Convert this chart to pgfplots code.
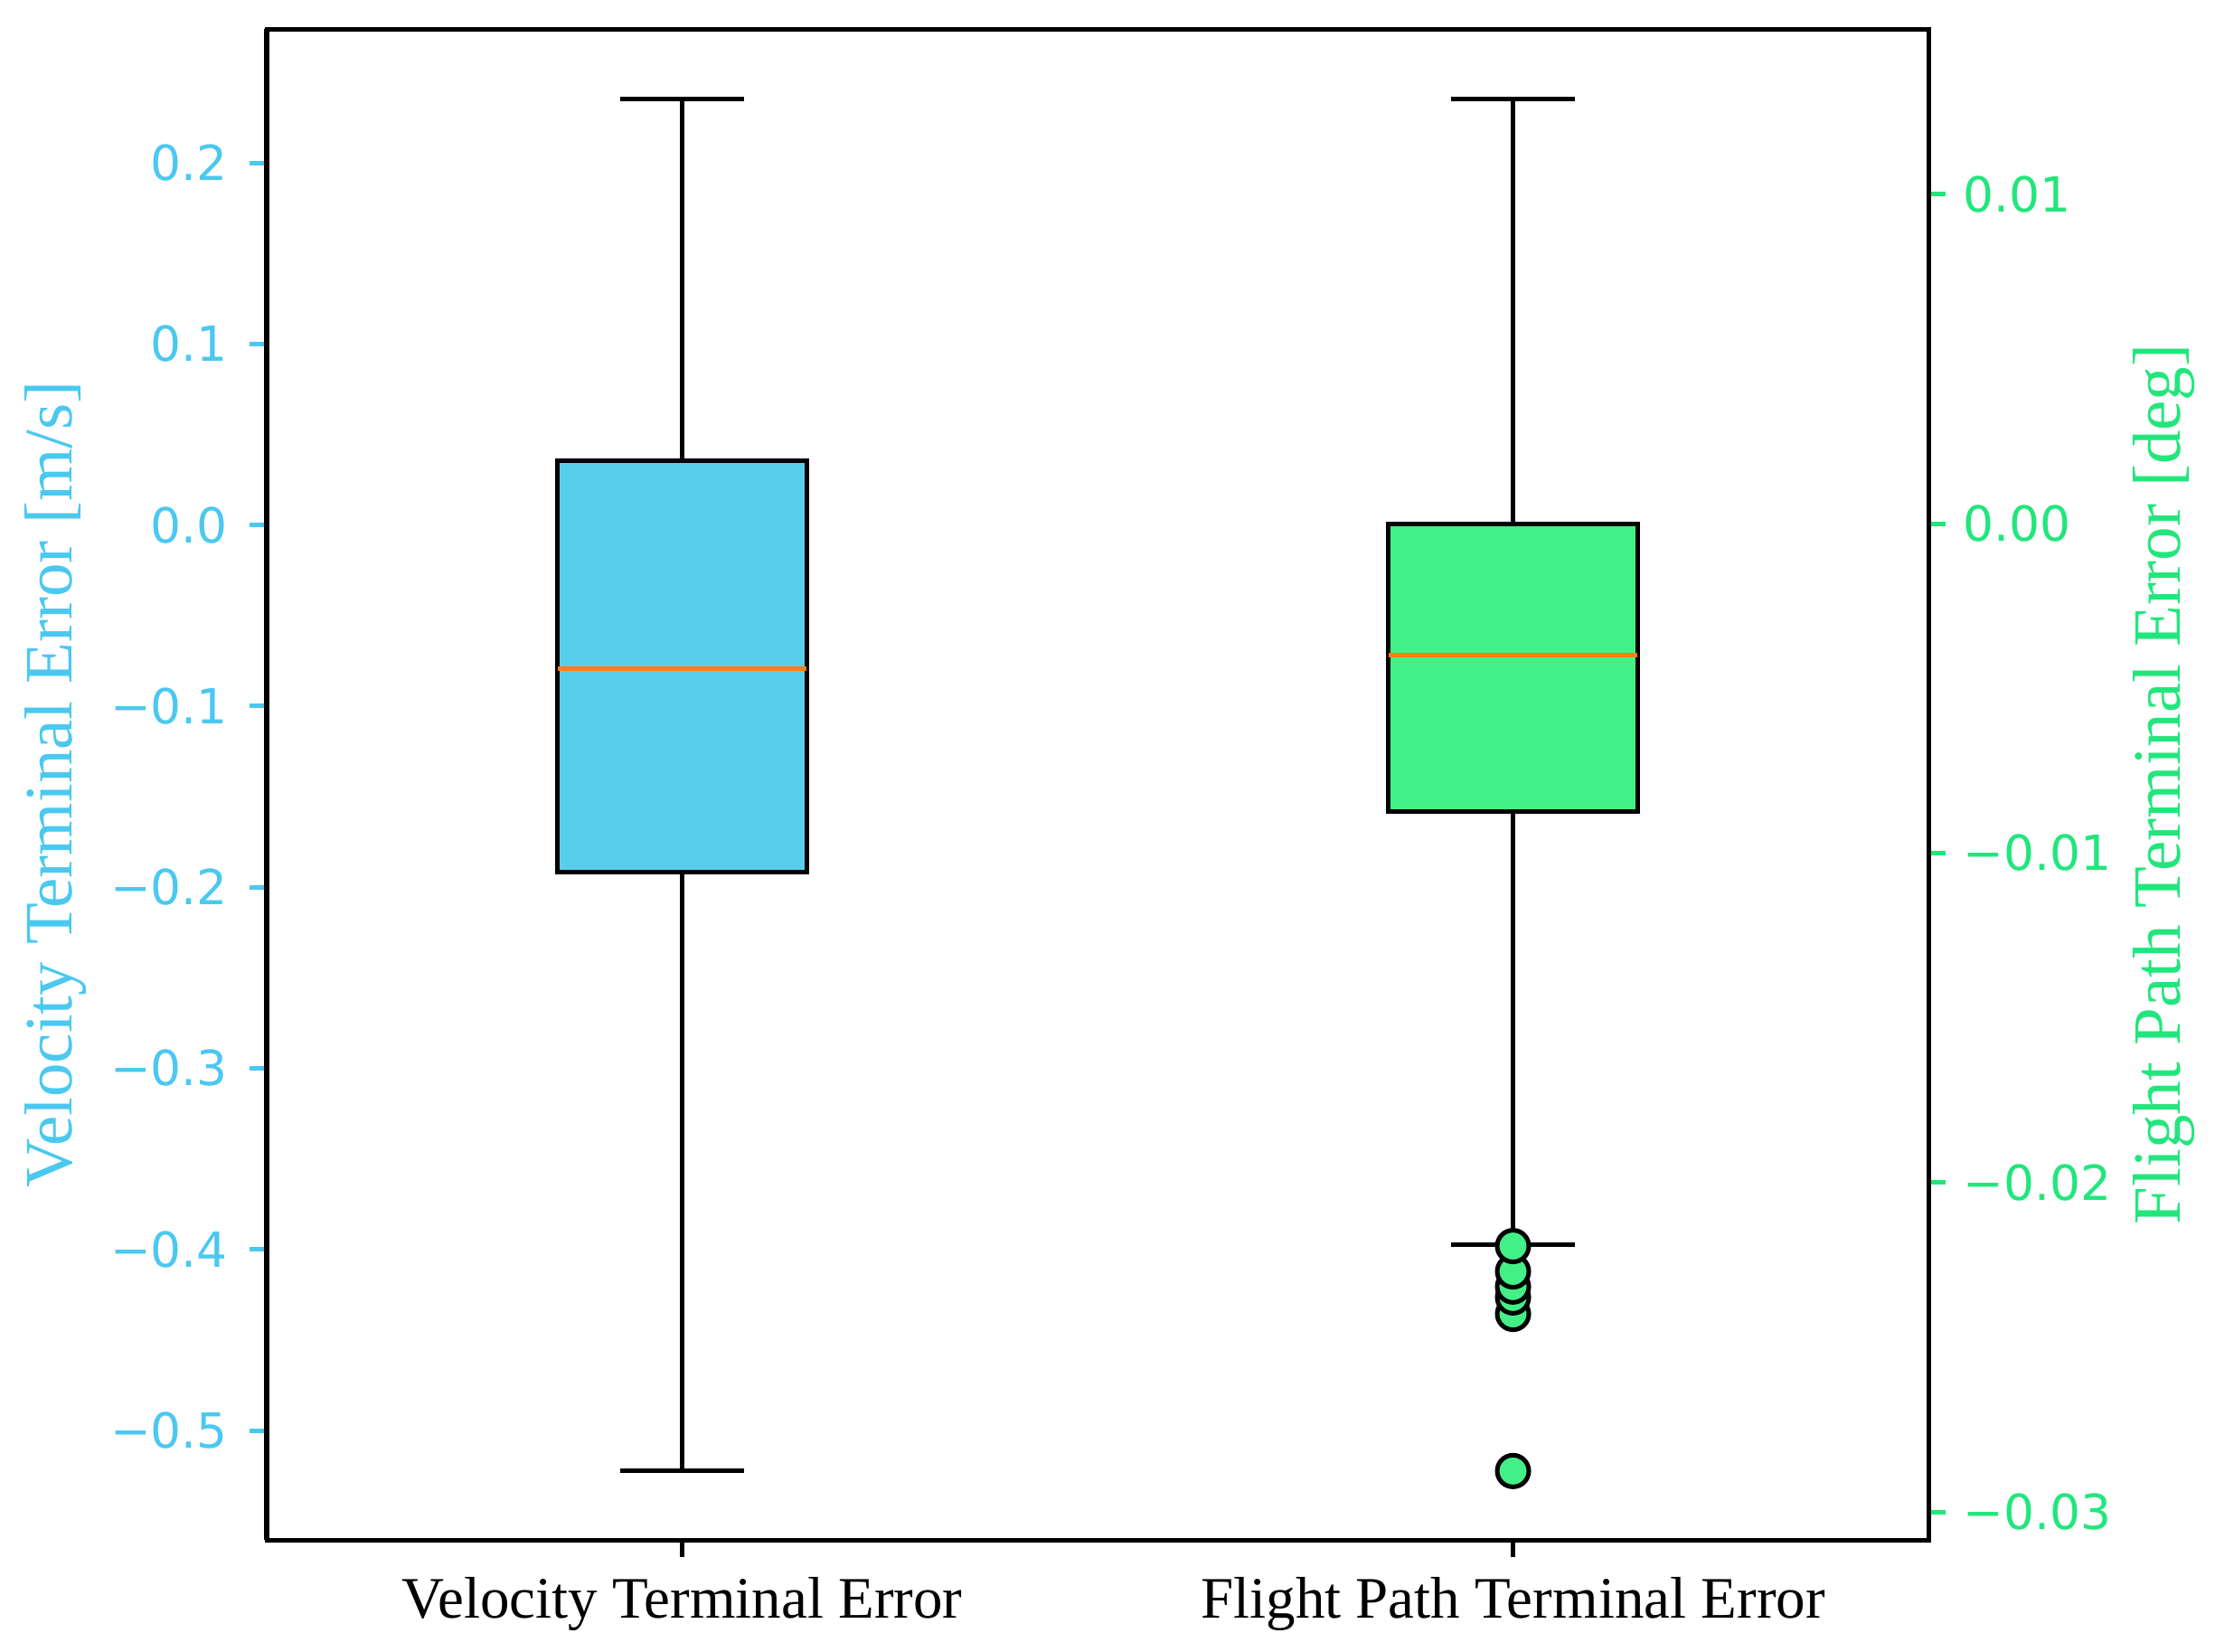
\documentclass[border=0pt]{standalone}
\usepackage{fontspec}
\setmainfont{Liberation Serif}
\newfontfamily\dejavu{DejaVu Sans}
\usepackage{pgfplots}
\pgfplotsset{compat=1.18}
\definecolor{cblue}{HTML}{57CEEB}
\definecolor{cgreen}{HTML}{43F087}
\definecolor{tblue}{HTML}{4BC8F0}
\definecolor{tgreen}{HTML}{22E67C}
\definecolor{corange}{HTML}{FF7F0E}
\begin{document}
\begin{tikzpicture}
\useasboundingbox (-59pt,-24.6pt) rectangle (431pt,340.6pt);
\pgfplotsset{
  common/.style={width=367.6pt, height=334.2pt, scale only axis,
    xmin=0.5, xmax=2.5, at={(0,0)}, anchor=south west,
    scaled ticks=false,
    axis line style={line width=1pt, black},
    tick align=outside, major tick length=3.8pt},
  bx/.style={draw=black, line width=1pt, line join=miter, mark=none},
  md/.style={draw=corange, line width=1pt, mark=none},
}
% left axis: velocity  (box: lower whisker, Q1, median, Q3, upper whisker)
% -0.5223, -0.1916, -0.0795, 0.0354, 0.2354
\begin{axis}[common,
  ymin=-0.5604, ymax=0.2739,
  axis y line*=left, axis x line=none, xtick=\empty,
  ytick={-0.5,-0.4,-0.3,-0.2,-0.1,0,0.1,0.2},
  yticklabels={−0.5,−0.4,−0.3,−0.2,−0.1,0.0,0.1,0.2},
  tick style={tblue, line width=1pt},
  yticklabel style={font=\fontsize{10.7}{13}\dejavu, text=tblue, anchor=east, inner sep=0pt, xshift=-4.6pt},
  ylabel={Velocity Terminal Error [m/s]},
  every axis y label/.style={at={(axis description cs:-0.1268,0.5)}, anchor=center, rotate=90, font=\fontsize{15}{17}\selectfont, text=tblue},
]
\addplot[bx] coordinates {(1,0.0354) (1,0.2354)};
\addplot[bx] coordinates {(0.925,0.2354) (1.075,0.2354)};
\addplot[bx] coordinates {(1,-0.1916) (1,-0.5223)};
\addplot[bx] coordinates {(0.925,-0.5223) (1.075,-0.5223)};
\addplot[bx, fill=cblue] coordinates {(0.85,-0.1916) (1.15,-0.1916) (1.15,0.0354) (0.85,0.0354)} -- cycle;
\addplot[md] coordinates {(0.85,-0.0795) (1.15,-0.0795)};
\end{axis}
% right axis: flight path
% -0.02189, -0.008742, -0.003974, 0.0, 0.01291
\begin{axis}[common,
  ymin=-0.030851, ymax=0.015024,
  axis y line*=right, axis x line=none, xtick=\empty,
  ytick={-0.03,-0.02,-0.01,0,0.01},
  yticklabels={−0.03,−0.02,−0.01,0.00,0.01},
  tick style={tgreen, line width=1pt},
  yticklabel style={font=\fontsize{10.7}{13}\dejavu, text=tgreen, anchor=west, inner sep=0pt, xshift=3.7pt},
  ylabel={Flight Path Terminal Error [deg]},
  every axis y label/.style={at={(axis description cs:1.142,0.5)}, anchor=center, rotate=90, font=\fontsize{15}{17}\selectfont, text=tgreen},
]
\addplot[bx] coordinates {(2,0.0) (2,0.01291)};
\addplot[bx] coordinates {(1.925,0.01291) (2.075,0.01291)};
\addplot[bx] coordinates {(2,-0.008742) (2,-0.02189)};
\addplot[bx] coordinates {(1.925,-0.02189) (2.075,-0.02189)};
\addplot[bx, fill=cgreen] coordinates {(1.85,-0.008742) (2.15,-0.008742) (2.15,0.0) (1.85,0.0)} -- cycle;
\addplot[md] coordinates {(1.85,-0.003974) (2.15,-0.003974)};
\addplot[only marks, mark=*, mark size=3.5pt,
  mark options={fill=cgreen, draw=black, line width=1pt}]
  coordinates {(2,-0.02876) (2,-0.02399) (2,-0.02349) (2,-0.02316) (2,-0.02270) (2,-0.02193)};
\end{axis}
% frame and x ticks
\begin{axis}[common,
  ymin=0, ymax=1, ytick=\empty,
  xtick={1,2}, xtick pos=bottom,
  xticklabels={Velocity Terminal Error, Flight Path Terminal Error},
  tick style={black, line width=1pt},
  xticklabel style={font=\fontsize{13}{15}\selectfont, anchor=base, yshift=-13.4pt},
]
\end{axis}
\end{tikzpicture}
\end{document}
